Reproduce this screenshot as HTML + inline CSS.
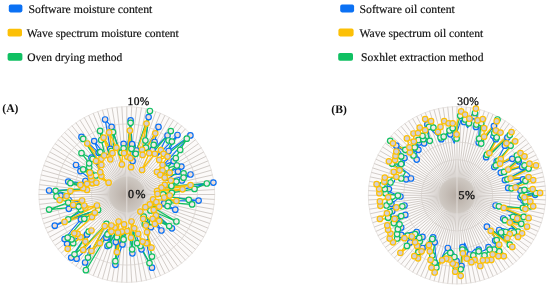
<!DOCTYPE html><html><head><meta charset="utf-8"><style>
html,body{margin:0;padding:0;background:#fff;}
body{width:550px;height:289px;overflow:hidden;position:relative;}
svg{position:absolute;left:0;top:0;}
text{font-family:"Liberation Serif","Times New Roman",serif;fill:#111;stroke:#111;stroke-width:0.18px;text-rendering:geometricPrecision;}
</style></head><body>
<svg width="550" height="289" viewBox="0 0 550 289">
<defs><radialGradient id="cg"><stop offset="0" stop-color="#b6aca4"/><stop offset="0.5" stop-color="#c3bbb4"/><stop offset="0.95" stop-color="#cec8c2"/><stop offset="1" stop-color="#d5d0cb"/></radialGradient></defs>

<rect x="8.8" y="4.6" width="13.6" height="7.8" rx="1.8" fill="#0b71f4"/>
<text x="28.4" y="12.6" font-size="11.75">Software moisture content</text>
<rect x="7.6" y="28.7" width="14.4" height="7.8" rx="1.8" fill="#fcc006"/>
<text x="26.8" y="36.9" font-size="11.6">Wave spectrum moisture content</text>
<rect x="7.6" y="53" width="14.8" height="7.8" rx="1.8" fill="#10c062"/>
<text x="27.2" y="61.0" font-size="11.5">Oven drying method</text>
<rect x="340.2" y="4.6" width="13.9" height="7.8" rx="1.8" fill="#0b71f4"/>
<text x="359.5" y="12.6" font-size="11.75">Software oil content</text>
<rect x="338.4" y="28.6" width="15.2" height="7.8" rx="1.8" fill="#fcc006"/>
<text x="359.5" y="36.9" font-size="11.6">Wave spectrum oil content</text>
<rect x="338.2" y="53" width="14.8" height="7.8" rx="1.8" fill="#10c062"/>
<text x="361.1" y="61.0" font-size="11.6">Soxhlet extraction method</text>
<text x="2.3" y="112.0" font-size="11.6" font-weight="bold" style="stroke-width:0">(A)</text>
<text x="331.3" y="112.5" font-size="11.6" font-weight="bold" style="stroke-width:0">(B)</text>
<circle cx="126.8" cy="194.5" r="88.2" fill="#fcfaf9"/>
<path d="M126.8 194.5L126.80 106.30M126.8 194.5L131.75 106.44M126.8 194.5L136.68 106.85M126.8 194.5L141.57 107.55M126.8 194.5L146.43 108.51M126.8 194.5L151.22 109.75M126.8 194.5L155.93 111.25M126.8 194.5L160.55 113.01M126.8 194.5L165.07 115.03M126.8 194.5L169.46 117.31M126.8 194.5L173.73 119.82M126.8 194.5L177.84 122.57M126.8 194.5L181.79 125.54M126.8 194.5L185.57 128.73M126.8 194.5L189.17 132.13M126.8 194.5L192.57 135.73M126.8 194.5L195.76 139.51M126.8 194.5L198.73 143.46M126.8 194.5L201.48 147.57M126.8 194.5L203.99 151.84M126.8 194.5L206.27 156.23M126.8 194.5L208.29 160.75M126.8 194.5L210.05 165.37M126.8 194.5L211.55 170.08M126.8 194.5L212.79 174.87M126.8 194.5L213.75 179.73M126.8 194.5L214.45 184.62M126.8 194.5L214.86 189.55M126.8 194.5L215.00 194.50M126.8 194.5L214.86 199.45M126.8 194.5L214.45 204.38M126.8 194.5L213.75 209.27M126.8 194.5L212.79 214.13M126.8 194.5L211.55 218.92M126.8 194.5L210.05 223.63M126.8 194.5L208.29 228.25M126.8 194.5L206.27 232.77M126.8 194.5L203.99 237.16M126.8 194.5L201.48 241.43M126.8 194.5L198.73 245.54M126.8 194.5L195.76 249.49M126.8 194.5L192.57 253.27M126.8 194.5L189.17 256.87M126.8 194.5L185.57 260.27M126.8 194.5L181.79 263.46M126.8 194.5L177.84 266.43M126.8 194.5L173.73 269.18M126.8 194.5L169.46 271.69M126.8 194.5L165.07 273.97M126.8 194.5L160.55 275.99M126.8 194.5L155.93 277.75M126.8 194.5L151.22 279.25M126.8 194.5L146.43 280.49M126.8 194.5L141.57 281.45M126.8 194.5L136.68 282.15M126.8 194.5L131.75 282.56M126.8 194.5L126.80 282.70M126.8 194.5L121.85 282.56M126.8 194.5L116.92 282.15M126.8 194.5L112.03 281.45M126.8 194.5L107.17 280.49M126.8 194.5L102.38 279.25M126.8 194.5L97.67 277.75M126.8 194.5L93.05 275.99M126.8 194.5L88.53 273.97M126.8 194.5L84.14 271.69M126.8 194.5L79.87 269.18M126.8 194.5L75.76 266.43M126.8 194.5L71.81 263.46M126.8 194.5L68.03 260.27M126.8 194.5L64.43 256.87M126.8 194.5L61.03 253.27M126.8 194.5L57.84 249.49M126.8 194.5L54.87 245.54M126.8 194.5L52.12 241.43M126.8 194.5L49.61 237.16M126.8 194.5L47.33 232.77M126.8 194.5L45.31 228.25M126.8 194.5L43.55 223.63M126.8 194.5L42.05 218.92M126.8 194.5L40.81 214.13M126.8 194.5L39.85 209.27M126.8 194.5L39.15 204.38M126.8 194.5L38.74 199.45M126.8 194.5L38.60 194.50M126.8 194.5L38.74 189.55M126.8 194.5L39.15 184.62M126.8 194.5L39.85 179.73M126.8 194.5L40.81 174.87M126.8 194.5L42.05 170.08M126.8 194.5L43.55 165.37M126.8 194.5L45.31 160.75M126.8 194.5L47.33 156.23M126.8 194.5L49.61 151.84M126.8 194.5L52.12 147.57M126.8 194.5L54.87 143.46M126.8 194.5L57.84 139.51M126.8 194.5L61.03 135.73M126.8 194.5L64.43 132.13M126.8 194.5L68.03 128.73M126.8 194.5L71.81 125.54M126.8 194.5L75.76 122.57M126.8 194.5L79.87 119.82M126.8 194.5L84.14 117.31M126.8 194.5L88.53 115.03M126.8 194.5L93.05 113.01M126.8 194.5L97.67 111.25M126.8 194.5L102.38 109.75M126.8 194.5L107.17 108.51M126.8 194.5L112.03 107.55M126.8 194.5L116.92 106.85M126.8 194.5L121.85 106.44" stroke="#c7c0bb" stroke-width="0.8" fill="none"/>
<circle cx="126.8" cy="194.5" r="87.90" fill="none" stroke="#dcd7d3" stroke-width="0.6"/>
<circle cx="126.8" cy="194.5" r="17.64" fill="none" stroke="#d6d0cc" stroke-width="0.7"/>
<circle cx="126.8" cy="194.5" r="35.28" fill="none" stroke="#d6d0cc" stroke-width="0.7"/>
<circle cx="126.8" cy="194.5" r="52.92" fill="none" stroke="#d6d0cc" stroke-width="0.7"/>
<circle cx="126.8" cy="194.5" r="70.56" fill="none" stroke="#d6d0cc" stroke-width="0.7"/>
<circle cx="126.8" cy="194.5" r="18.14" fill="url(#cg)"/>
<line x1="126.8" y1="159.2" x2="126.8" y2="229.8" stroke="#e4e0dd" stroke-width="0.9"/>
<circle cx="457" cy="195.3" r="89" fill="#fcfaf9"/>
<path d="M457 195.3L457.00 106.30M457 195.3L461.66 106.42M457 195.3L466.30 106.79M457 195.3L470.92 107.40M457 195.3L475.50 108.24M457 195.3L480.03 109.33M457 195.3L484.50 110.66M457 195.3L488.89 112.21M457 195.3L493.20 113.99M457 195.3L497.41 116.00M457 195.3L501.50 118.22M457 195.3L505.47 120.66M457 195.3L509.31 123.30M457 195.3L513.01 126.13M457 195.3L516.55 129.16M457 195.3L519.93 132.37M457 195.3L523.14 135.75M457 195.3L526.17 139.29M457 195.3L529.00 142.99M457 195.3L531.64 146.83M457 195.3L534.08 150.80M457 195.3L536.30 154.89M457 195.3L538.31 159.10M457 195.3L540.09 163.41M457 195.3L541.64 167.80M457 195.3L542.97 172.27M457 195.3L544.06 176.80M457 195.3L544.90 181.38M457 195.3L545.51 186.00M457 195.3L545.88 190.64M457 195.3L546.00 195.30M457 195.3L545.88 199.96M457 195.3L545.51 204.60M457 195.3L544.90 209.22M457 195.3L544.06 213.80M457 195.3L542.97 218.33M457 195.3L541.64 222.80M457 195.3L540.09 227.19M457 195.3L538.31 231.50M457 195.3L536.30 235.71M457 195.3L534.08 239.80M457 195.3L531.64 243.77M457 195.3L529.00 247.61M457 195.3L526.17 251.31M457 195.3L523.14 254.85M457 195.3L519.93 258.23M457 195.3L516.55 261.44M457 195.3L513.01 264.47M457 195.3L509.31 267.30M457 195.3L505.47 269.94M457 195.3L501.50 272.38M457 195.3L497.41 274.60M457 195.3L493.20 276.61M457 195.3L488.89 278.39M457 195.3L484.50 279.94M457 195.3L480.03 281.27M457 195.3L475.50 282.36M457 195.3L470.92 283.20M457 195.3L466.30 283.81M457 195.3L461.66 284.18M457 195.3L457.00 284.30M457 195.3L452.34 284.18M457 195.3L447.70 283.81M457 195.3L443.08 283.20M457 195.3L438.50 282.36M457 195.3L433.97 281.27M457 195.3L429.50 279.94M457 195.3L425.11 278.39M457 195.3L420.80 276.61M457 195.3L416.59 274.60M457 195.3L412.50 272.38M457 195.3L408.53 269.94M457 195.3L404.69 267.30M457 195.3L400.99 264.47M457 195.3L397.45 261.44M457 195.3L394.07 258.23M457 195.3L390.86 254.85M457 195.3L387.83 251.31M457 195.3L385.00 247.61M457 195.3L382.36 243.77M457 195.3L379.92 239.80M457 195.3L377.70 235.71M457 195.3L375.69 231.50M457 195.3L373.91 227.19M457 195.3L372.36 222.80M457 195.3L371.03 218.33M457 195.3L369.94 213.80M457 195.3L369.10 209.22M457 195.3L368.49 204.60M457 195.3L368.12 199.96M457 195.3L368.00 195.30M457 195.3L368.12 190.64M457 195.3L368.49 186.00M457 195.3L369.10 181.38M457 195.3L369.94 176.80M457 195.3L371.03 172.27M457 195.3L372.36 167.80M457 195.3L373.91 163.41M457 195.3L375.69 159.10M457 195.3L377.70 154.89M457 195.3L379.92 150.80M457 195.3L382.36 146.83M457 195.3L385.00 142.99M457 195.3L387.83 139.29M457 195.3L390.86 135.75M457 195.3L394.07 132.37M457 195.3L397.45 129.16M457 195.3L400.99 126.13M457 195.3L404.69 123.30M457 195.3L408.53 120.66M457 195.3L412.50 118.22M457 195.3L416.59 116.00M457 195.3L420.80 113.99M457 195.3L425.11 112.21M457 195.3L429.50 110.66M457 195.3L433.97 109.33M457 195.3L438.50 108.24M457 195.3L443.08 107.40M457 195.3L447.70 106.79M457 195.3L452.34 106.42" stroke="#c7c0bb" stroke-width="0.8" fill="none"/>
<circle cx="457" cy="195.3" r="88.70" fill="none" stroke="#dcd7d3" stroke-width="0.6"/>
<circle cx="457" cy="195.3" r="17.80" fill="none" stroke="#d6d0cc" stroke-width="0.7"/>
<circle cx="457" cy="195.3" r="35.60" fill="none" stroke="#d6d0cc" stroke-width="0.7"/>
<circle cx="457" cy="195.3" r="53.40" fill="none" stroke="#d6d0cc" stroke-width="0.7"/>
<circle cx="457" cy="195.3" r="71.20" fill="none" stroke="#d6d0cc" stroke-width="0.7"/>
<circle cx="457" cy="195.3" r="18.30" fill="url(#cg)"/>
<line x1="457" y1="159.7" x2="457" y2="230.9" stroke="#e4e0dd" stroke-width="0.9"/>
<path d="M126.8 154.9L130.6 120.4L132.1 144.2L132.6 161.1L136.5 150.5L148.6 117.1L145.8 140.3L144.9 150.8L158.5 126.9L154.6 142.0L152.6 149.9L167.5 135.5L157.6 155.9L177.5 135.0L168.6 151.0L190.4 135.4L163.0 165.6L173.6 161.1L163.2 171.6L163.1 174.4L181.4 166.6L178.0 171.6L165.9 180.8L190.5 174.5L181.9 180.5L165.3 188.0L213.4 182.6L169.6 192.1L164.3 194.5L169.6 196.9L198.6 200.6L163.8 200.8L164.2 203.3L175.3 209.7L153.9 204.0L155.2 206.3L152.0 206.7L151.3 208.1L155.1 212.3L171.9 228.3L154.9 216.9L155.3 220.0L161.4 230.5L148.4 218.6L147.3 220.2L150.9 227.2L146.2 225.3L147.5 231.9L148.4 239.3L145.8 240.4L152.0 267.7L141.5 249.3L135.9 234.4L133.1 231.7L132.4 253.3L128.7 227.8L126.8 231.5L124.7 231.5L122.5 244.4L115.4 264.8L115.8 242.1L115.9 232.2L107.5 246.0L113.3 227.1L106.4 237.7L107.4 229.7L85.1 262.5L90.5 245.6L76.6 258.7L71.2 257.6L87.0 234.4L79.8 236.5L67.1 243.8L64.6 239.1L73.5 228.0L80.9 219.3L89.4 212.5L54.8 225.7L85.8 208.9L84.6 206.7L68.8 208.8L82.3 202.1L72.5 200.6L70.4 197.7L60.5 195.7L49.1 190.5L79.7 189.2L83.4 187.1L68.2 181.6L87.2 183.1L85.4 181.0L91.3 179.8L80.4 171.1L76.0 165.0L94.3 174.1L98.6 174.5L99.7 172.9L101.0 171.4L91.5 157.7L99.2 161.7L81.5 136.9L98.7 152.7L94.2 141.1L105.3 155.6L107.5 154.5L109.6 152.9L110.3 148.8L105.1 119.5L111.6 126.9L119.3 150.5L122.4 155.1L123.6 143.8Z" stroke="#0b71f4" stroke-width="1.15" fill="none" stroke-linejoin="round"/>
<path d="M126.8 154.9L130.6 122.8L131.5 148.8L135.2 145.0L135.7 153.8L149.9 111.0L145.4 140.5L145.9 147.7L147.2 152.2L153.7 144.9L153.1 152.7L170.8 131.1L168.6 140.5L171.9 141.6L165.6 155.7L186.8 138.7L180.2 149.9L175.8 158.2L166.4 168.3L176.9 165.5L165.6 175.8L183.6 173.3L183.6 177.7L176.4 181.6L171.4 186.0L206.8 183.5L194.5 188.9L171.9 192.8L163.1 194.4L169.6 196.9L188.8 199.8L192.1 204.4L168.6 202.7L167.5 206.1L153.9 204.0L155.2 206.3L152.0 206.7L176.4 221.5L155.1 212.3L150.4 210.5L169.2 226.1L155.3 220.0L153.7 221.4L152.0 222.2L143.7 216.6L145.8 221.3L144.8 223.9L147.5 231.9L148.4 239.3L152.0 256.6L149.5 263.1L140.4 246.0L137.1 243.2L133.1 231.7L132.1 249.3L128.7 227.8L126.8 231.5L123.6 239.4L122.6 231.7L115.4 261.2L116.9 237.2L115.9 232.2L109.2 244.9L113.3 227.1L107.5 234.4L85.9 270.2L88.0 257.6L106.4 223.9L87.7 243.5L74.5 254.3L88.7 231.6L73.2 243.2L71.5 239.4L67.7 237.7L84.3 218.8L98.1 209.9L89.4 212.5L68.2 219.3L80.9 209.4L84.6 206.7L78.7 206.6L49.1 209.6L68.2 202.7L56.5 196.5L70.3 194.5L55.6 190.8L79.7 189.2L83.4 187.1L70.4 183.2L87.2 183.1L90.6 181.8L91.3 179.8L92.2 177.8L83.2 169.4L95.9 175.5L89.2 167.2L89.2 163.3L81.5 153.2L92.6 159.0L97.6 161.8L83.2 138.9L101.1 158.3L100.3 152.1L105.3 155.6L101.2 140.0L100.1 130.9L111.4 151.0L113.5 148.4L113.0 132.2L119.3 150.5L121.4 152.7L123.6 148.3Z" stroke="#10c062" stroke-width="1.25" fill="none" stroke-linejoin="round"/>
<path d="M127.1 156.6L129.9 130.6L130.4 158.2L131.0 167.2L136.1 153.6L146.5 123.6L142.1 149.7L142.6 154.9L155.3 133.3L149.2 153.2L142.1 170.0L154.8 153.8L160.9 150.1L163.6 153.8L159.2 159.9L167.5 156.6L162.5 165.0L157.0 172.0L162.5 170.5L160.3 174.9L169.7 172.7L164.7 177.7L170.8 180.5L164.7 184.9L161.4 187.7L190.5 185.1L157.0 191.0L182.5 189.3L157.5 193.9L169.7 195.5L164.2 197.5L176.4 201.1L153.1 199.4L156.4 202.2L159.2 206.6L149.8 204.4L152.0 206.7L153.7 209.9L145.4 207.2L155.9 215.5L159.2 221.0L152.6 218.8L154.8 223.9L148.4 218.6L140.4 211.6L143.2 218.8L145.9 225.5L147.0 232.2L151.5 247.7L146.5 243.2L142.6 241.6L138.2 233.8L134.3 228.3L131.5 221.5L131.0 237.7L128.7 227.8L127.1 231.1L124.1 224.4L121.9 231.6L117.0 252.2L118.0 232.7L118.6 221.5L114.7 227.7L111.4 231.6L111.4 225.5L99.8 243.2L91.5 251.0L104.7 226.1L83.2 249.9L85.4 241.6L91.5 230.5L80.4 237.2L67.7 248.8L77.6 233.8L74.3 233.3L92.0 217.1L94.8 212.7L64.6 221.9L97.0 205.5L85.4 207.7L84.3 205.5L73.2 204.9L82.1 200.5L59.7 200.1L66.6 196.1L70.4 191.0L87.0 189.9L83.2 188.2L80.4 184.9L87.0 183.8L92.6 183.2L96.4 182.7L91.5 179.4L90.9 176.1L89.8 172.7L108.6 182.7L101.4 176.1L100.3 172.2L95.9 161.0L101.4 165.0L87.3 143.5L101.4 158.8L103.2 156.9L104.2 155.5L110.3 159.3L103.6 137.7L112.5 153.2L109.2 132.4L116.4 147.7L121.9 164.4L122.4 155.1L124.1 153.2Z" stroke="#fcc006" stroke-width="1.35" fill="none" stroke-linejoin="round"/>
<g fill="#f1ddd3" stroke="#0b71f4" stroke-width="1.2"><circle cx="130.6" cy="120.4" r="2.75"/><circle cx="132.1" cy="144.2" r="2.75"/><circle cx="132.6" cy="161.1" r="2.75"/><circle cx="136.5" cy="150.5" r="2.75"/><circle cx="148.6" cy="117.1" r="2.75"/><circle cx="158.5" cy="126.9" r="2.75"/><circle cx="154.6" cy="142.0" r="2.75"/><circle cx="152.6" cy="149.9" r="2.75"/><circle cx="167.5" cy="135.5" r="2.75"/><circle cx="177.5" cy="135.0" r="2.75"/><circle cx="168.6" cy="151.0" r="2.75"/><circle cx="190.4" cy="135.4" r="2.75"/><circle cx="173.6" cy="161.1" r="2.75"/><circle cx="181.4" cy="166.6" r="2.75"/><circle cx="178.0" cy="171.6" r="2.75"/><circle cx="190.5" cy="174.5" r="2.75"/><circle cx="181.9" cy="180.5" r="2.75"/><circle cx="213.4" cy="182.6" r="2.75"/><circle cx="198.6" cy="200.6" r="2.75"/><circle cx="164.2" cy="203.3" r="2.75"/><circle cx="175.3" cy="209.7" r="2.75"/><circle cx="171.9" cy="228.3" r="2.75"/><circle cx="161.4" cy="230.5" r="2.75"/><circle cx="150.9" cy="227.2" r="2.75"/><circle cx="152.0" cy="267.7" r="2.75"/><circle cx="141.5" cy="249.3" r="2.75"/><circle cx="132.4" cy="253.3" r="2.75"/><circle cx="122.5" cy="244.4" r="2.75"/><circle cx="115.4" cy="264.8" r="2.75"/><circle cx="115.8" cy="242.1" r="2.75"/><circle cx="107.5" cy="246.0" r="2.75"/><circle cx="106.4" cy="237.7" r="2.75"/><circle cx="85.1" cy="262.5" r="2.75"/><circle cx="76.6" cy="258.7" r="2.75"/><circle cx="71.2" cy="257.6" r="2.75"/><circle cx="87.0" cy="234.4" r="2.75"/><circle cx="67.1" cy="243.8" r="2.75"/><circle cx="64.6" cy="239.1" r="2.75"/><circle cx="80.9" cy="219.3" r="2.75"/><circle cx="54.8" cy="225.7" r="2.75"/><circle cx="68.8" cy="208.8" r="2.75"/><circle cx="60.5" cy="195.7" r="2.75"/><circle cx="49.1" cy="190.5" r="2.75"/><circle cx="68.2" cy="181.6" r="2.75"/><circle cx="85.4" cy="181.0" r="2.75"/><circle cx="80.4" cy="171.1" r="2.75"/><circle cx="76.0" cy="165.0" r="2.75"/><circle cx="91.5" cy="157.7" r="2.75"/><circle cx="99.2" cy="161.7" r="2.75"/><circle cx="81.5" cy="136.9" r="2.75"/><circle cx="98.7" cy="152.7" r="2.75"/><circle cx="94.2" cy="141.1" r="2.75"/><circle cx="110.3" cy="148.8" r="2.75"/><circle cx="105.1" cy="119.5" r="2.75"/><circle cx="111.6" cy="126.9" r="2.75"/><circle cx="123.6" cy="143.8" r="2.75"/></g>
<g fill="#f3ebea" stroke="#10c062" stroke-width="1.2"><circle cx="130.6" cy="122.8" r="2.75"/><circle cx="131.5" cy="148.8" r="2.75"/><circle cx="135.7" cy="153.8" r="2.75"/><circle cx="149.9" cy="111.0" r="2.75"/><circle cx="145.4" cy="140.5" r="2.75"/><circle cx="145.9" cy="147.7" r="2.75"/><circle cx="153.7" cy="144.9" r="2.75"/><circle cx="170.8" cy="131.1" r="2.75"/><circle cx="168.6" cy="140.5" r="2.75"/><circle cx="171.9" cy="141.6" r="2.75"/><circle cx="186.8" cy="138.7" r="2.75"/><circle cx="180.2" cy="149.9" r="2.75"/><circle cx="175.8" cy="158.2" r="2.75"/><circle cx="166.4" cy="168.3" r="2.75"/><circle cx="176.9" cy="165.5" r="2.75"/><circle cx="183.6" cy="173.3" r="2.75"/><circle cx="183.6" cy="177.7" r="2.75"/><circle cx="176.4" cy="181.6" r="2.75"/><circle cx="171.4" cy="186.0" r="2.75"/><circle cx="206.8" cy="183.5" r="2.75"/><circle cx="194.5" cy="188.9" r="2.75"/><circle cx="171.9" cy="192.8" r="2.75"/><circle cx="163.1" cy="194.4" r="2.75"/><circle cx="188.8" cy="199.8" r="2.75"/><circle cx="192.1" cy="204.4" r="2.75"/><circle cx="168.6" cy="202.7" r="2.75"/><circle cx="167.5" cy="206.1" r="2.75"/><circle cx="176.4" cy="221.5" r="2.75"/><circle cx="150.4" cy="210.5" r="2.75"/><circle cx="169.2" cy="226.1" r="2.75"/><circle cx="152.0" cy="222.2" r="2.75"/><circle cx="143.7" cy="216.6" r="2.75"/><circle cx="144.8" cy="223.9" r="2.75"/><circle cx="152.0" cy="256.6" r="2.75"/><circle cx="149.5" cy="263.1" r="2.75"/><circle cx="140.4" cy="246.0" r="2.75"/><circle cx="137.1" cy="243.2" r="2.75"/><circle cx="132.1" cy="249.3" r="2.75"/><circle cx="123.6" cy="239.4" r="2.75"/><circle cx="115.4" cy="261.2" r="2.75"/><circle cx="116.9" cy="237.2" r="2.75"/><circle cx="109.2" cy="244.9" r="2.75"/><circle cx="107.5" cy="234.4" r="2.75"/><circle cx="85.9" cy="270.2" r="2.75"/><circle cx="88.0" cy="257.6" r="2.75"/><circle cx="106.4" cy="223.9" r="2.75"/><circle cx="74.5" cy="254.3" r="2.75"/><circle cx="88.7" cy="231.6" r="2.75"/><circle cx="73.2" cy="243.2" r="2.75"/><circle cx="71.5" cy="239.4" r="2.75"/><circle cx="67.7" cy="237.7" r="2.75"/><circle cx="84.3" cy="218.8" r="2.75"/><circle cx="98.1" cy="209.9" r="2.75"/><circle cx="68.2" cy="219.3" r="2.75"/><circle cx="80.9" cy="209.4" r="2.75"/><circle cx="78.7" cy="206.6" r="2.75"/><circle cx="49.1" cy="209.6" r="2.75"/><circle cx="68.2" cy="202.7" r="2.75"/><circle cx="56.5" cy="196.5" r="2.75"/><circle cx="55.6" cy="190.8" r="2.75"/><circle cx="70.4" cy="183.2" r="2.75"/><circle cx="83.2" cy="169.4" r="2.75"/><circle cx="95.9" cy="175.5" r="2.75"/><circle cx="89.2" cy="167.2" r="2.75"/><circle cx="89.2" cy="163.3" r="2.75"/><circle cx="81.5" cy="153.2" r="2.75"/><circle cx="92.6" cy="159.0" r="2.75"/><circle cx="83.2" cy="138.9" r="2.75"/><circle cx="100.3" cy="152.1" r="2.75"/><circle cx="101.2" cy="140.0" r="2.75"/><circle cx="100.1" cy="130.9" r="2.75"/><circle cx="111.4" cy="151.0" r="2.75"/><circle cx="113.0" cy="132.2" r="2.75"/><circle cx="121.4" cy="152.7" r="2.75"/><circle cx="123.6" cy="148.3" r="2.75"/></g>
<g fill="#d3cfd6" stroke="#fcc006" stroke-width="1.2"><circle cx="127.1" cy="156.6" r="2.75"/><circle cx="129.9" cy="130.6" r="2.75"/><circle cx="130.4" cy="158.2" r="2.75"/><circle cx="131.0" cy="167.2" r="2.75"/><circle cx="146.5" cy="123.6" r="2.75"/><circle cx="142.1" cy="149.7" r="2.75"/><circle cx="142.6" cy="154.9" r="2.75"/><circle cx="155.3" cy="133.3" r="2.75"/><circle cx="149.2" cy="153.2" r="2.75"/><circle cx="142.1" cy="170.0" r="2.75"/><circle cx="154.8" cy="153.8" r="2.75"/><circle cx="160.9" cy="150.1" r="2.75"/><circle cx="163.6" cy="153.8" r="2.75"/><circle cx="159.2" cy="159.9" r="2.75"/><circle cx="167.5" cy="156.6" r="2.75"/><circle cx="162.5" cy="165.0" r="2.75"/><circle cx="157.0" cy="172.0" r="2.75"/><circle cx="162.5" cy="170.5" r="2.75"/><circle cx="160.3" cy="174.9" r="2.75"/><circle cx="169.7" cy="172.7" r="2.75"/><circle cx="164.7" cy="177.7" r="2.75"/><circle cx="170.8" cy="180.5" r="2.75"/><circle cx="164.7" cy="184.9" r="2.75"/><circle cx="161.4" cy="187.7" r="2.75"/><circle cx="190.5" cy="185.1" r="2.75"/><circle cx="157.0" cy="191.0" r="2.75"/><circle cx="182.5" cy="189.3" r="2.75"/><circle cx="157.5" cy="193.9" r="2.75"/><circle cx="169.7" cy="195.5" r="2.75"/><circle cx="164.2" cy="197.5" r="2.75"/><circle cx="176.4" cy="201.1" r="2.75"/><circle cx="153.1" cy="199.4" r="2.75"/><circle cx="156.4" cy="202.2" r="2.75"/><circle cx="159.2" cy="206.6" r="2.75"/><circle cx="149.8" cy="204.4" r="2.75"/><circle cx="153.7" cy="209.9" r="2.75"/><circle cx="145.4" cy="207.2" r="2.75"/><circle cx="155.9" cy="215.5" r="2.75"/><circle cx="159.2" cy="221.0" r="2.75"/><circle cx="152.6" cy="218.8" r="2.75"/><circle cx="154.8" cy="223.9" r="2.75"/><circle cx="140.4" cy="211.6" r="2.75"/><circle cx="143.2" cy="218.8" r="2.75"/><circle cx="145.9" cy="225.5" r="2.75"/><circle cx="147.0" cy="232.2" r="2.75"/><circle cx="151.5" cy="247.7" r="2.75"/><circle cx="146.5" cy="243.2" r="2.75"/><circle cx="142.6" cy="241.6" r="2.75"/><circle cx="138.2" cy="233.8" r="2.75"/><circle cx="134.3" cy="228.3" r="2.75"/><circle cx="131.5" cy="221.5" r="2.75"/><circle cx="131.0" cy="237.7" r="2.75"/><circle cx="127.1" cy="231.1" r="2.75"/><circle cx="124.1" cy="224.4" r="2.75"/><circle cx="121.9" cy="231.6" r="2.75"/><circle cx="117.0" cy="252.2" r="2.75"/><circle cx="118.0" cy="232.7" r="2.75"/><circle cx="118.6" cy="221.5" r="2.75"/><circle cx="114.7" cy="227.7" r="2.75"/><circle cx="111.4" cy="231.6" r="2.75"/><circle cx="111.4" cy="225.5" r="2.75"/><circle cx="99.8" cy="243.2" r="2.75"/><circle cx="91.5" cy="251.0" r="2.75"/><circle cx="104.7" cy="226.1" r="2.75"/><circle cx="83.2" cy="249.9" r="2.75"/><circle cx="85.4" cy="241.6" r="2.75"/><circle cx="91.5" cy="230.5" r="2.75"/><circle cx="80.4" cy="237.2" r="2.75"/><circle cx="67.7" cy="248.8" r="2.75"/><circle cx="77.6" cy="233.8" r="2.75"/><circle cx="74.3" cy="233.3" r="2.75"/><circle cx="92.0" cy="217.1" r="2.75"/><circle cx="94.8" cy="212.7" r="2.75"/><circle cx="64.6" cy="221.9" r="2.75"/><circle cx="97.0" cy="205.5" r="2.75"/><circle cx="85.4" cy="207.7" r="2.75"/><circle cx="84.3" cy="205.5" r="2.75"/><circle cx="73.2" cy="204.9" r="2.75"/><circle cx="82.1" cy="200.5" r="2.75"/><circle cx="59.7" cy="200.1" r="2.75"/><circle cx="66.6" cy="196.1" r="2.75"/><circle cx="70.4" cy="191.0" r="2.75"/><circle cx="87.0" cy="189.9" r="2.75"/><circle cx="83.2" cy="188.2" r="2.75"/><circle cx="80.4" cy="184.9" r="2.75"/><circle cx="87.0" cy="183.8" r="2.75"/><circle cx="92.6" cy="183.2" r="2.75"/><circle cx="96.4" cy="182.7" r="2.75"/><circle cx="91.5" cy="179.4" r="2.75"/><circle cx="90.9" cy="176.1" r="2.75"/><circle cx="89.8" cy="172.7" r="2.75"/><circle cx="108.6" cy="182.7" r="2.75"/><circle cx="101.4" cy="176.1" r="2.75"/><circle cx="100.3" cy="172.2" r="2.75"/><circle cx="95.9" cy="161.0" r="2.75"/><circle cx="101.4" cy="165.0" r="2.75"/><circle cx="87.3" cy="143.5" r="2.75"/><circle cx="101.4" cy="158.8" r="2.75"/><circle cx="104.2" cy="155.5" r="2.75"/><circle cx="110.3" cy="159.3" r="2.75"/><circle cx="103.6" cy="137.7" r="2.75"/><circle cx="112.5" cy="153.2" r="2.75"/><circle cx="109.2" cy="132.4" r="2.75"/><circle cx="116.4" cy="147.7" r="2.75"/><circle cx="121.9" cy="164.4" r="2.75"/><circle cx="124.1" cy="153.2" r="2.75"/></g>
<path d="M457.0 131.7L460.9 120.4L464.0 122.0L467.7 127.6L474.3 116.3L475.9 126.9L479.1 127.4L478.7 142.5L479.0 145.9L493.9 126.1L490.6 137.0L493.3 139.5L495.9 139.2L486.1 157.2L507.4 137.5L504.9 145.7L496.7 161.3L494.8 164.7L494.3 167.0L512.3 158.8L518.8 161.3L500.8 172.7L522.1 167.0L525.8 168.9L504.9 180.1L522.9 179.3L522.5 181.4L508.2 187.9L521.7 188.5L520.5 190.7L535.2 194.8L520.5 197.3L521.0 202.0L524.9 206.1L517.3 208.1L495.6 205.5L519.6 215.6L508.8 215.2L518.0 222.4L503.3 218.5L514.5 228.5L511.5 230.8L502.7 228.5L499.2 230.0L506.9 240.3L486.9 226.7L494.2 236.6L495.1 240.6L495.3 248.0L490.1 246.2L488.5 247.2L484.9 250.1L481.9 251.2L478.7 249.6L474.6 249.4L472.2 251.9L469.7 254.5L464.6 243.0L462.4 247.2L461.5 266.0L456.6 261.1L454.0 253.5L451.3 249.5L447.8 248.0L445.2 250.7L438.6 263.9L436.3 259.1L435.3 251.9L434.7 242.3L435.6 237.3L433.1 237.4L422.5 248.0L419.2 247.3L422.5 236.9L421.4 234.8L410.2 242.3L416.7 232.0L411.2 232.4L401.2 234.9L399.2 232.8L401.2 227.5L400.1 224.3L397.0 222.0L405.3 214.9L390.7 216.9L392.2 211.2L404.5 205.5L390.3 205.9L391.4 203.8L398.2 198.4L400.4 196.5L389.4 191.8L388.9 189.1L386.4 184.1L394.3 182.0L394.9 178.7L406.1 179.3L411.0 178.5L408.9 173.9L397.0 164.7L404.4 164.9L404.2 161.0L404.5 158.0L396.3 145.7L416.7 159.6L417.1 155.4L415.1 148.5L418.4 149.8L419.2 142.5L424.1 143.3L423.9 138.0L429.8 141.9L427.4 124.5L432.1 130.5L437.8 136.2L441.3 139.2L444.3 135.8L447.3 134.0L450.3 134.3L454.3 143.2Z" stroke="#0b71f4" stroke-width="1.15" fill="none" stroke-linejoin="round"/>
<path d="M457.0 127.1L460.2 115.8L465.1 119.5L468.9 123.3L475.0 113.0L476.3 124.5L481.2 123.3L479.2 138.7L481.2 143.6L497.5 119.5L494.3 133.1L496.7 137.5L486.9 154.7L488.0 157.0L509.8 135.1L505.8 146.5L510.6 145.7L498.4 160.5L495.9 165.4L516.9 155.5L518.0 159.6L504.1 171.9L524.5 165.4L528.6 168.6L507.4 179.3L524.2 177.3L525.4 180.9L511.5 188.3L524.5 189.9L536.0 193.2L522.1 195.6L521.1 198.7L525.4 201.4L530.3 206.3L522.9 207.9L498.9 206.3L523.7 216.9L513.1 216.9L521.3 223.8L504.9 220.2L518.0 231.6L513.9 232.5L505.7 232.0L501.1 232.5L509.8 244.7L488.7 227.0L496.7 240.1L499.0 247.1L499.2 251.3L494.3 249.6L489.7 249.6L486.7 253.5L484.5 255.4L478.7 251.3L475.8 253.1L473.3 255.4L469.7 254.9L465.2 246.9L462.4 249.6L460.7 269.3L455.8 267.6L454.4 257.0L450.3 252.9L448.0 252.1L444.4 254.5L436.4 267.6L434.7 262.7L432.3 255.4L434.3 246.3L433.8 240.8L432.3 239.0L418.4 252.1L416.9 250.5L419.7 241.5L419.2 237.9L406.9 245.9L415.1 234.1L407.7 235.7L397.1 238.5L397.1 234.1L397.9 229.2L399.5 224.3L393.8 223.1L401.2 216.1L388.1 217.7L389.7 212.0L402.3 206.3L386.5 205.5L389.7 201.4L394.3 198.6L397.9 195.6L385.6 193.2L384.8 189.1L382.4 185.0L390.5 182.5L391.2 177.7L401.2 178.5L403.9 174.9L405.4 172.3L392.2 163.7L401.2 164.1L400.9 158.9L401.2 156.4L390.2 140.8L405.3 149.8L413.5 155.5L414.8 147.4L417.4 146.4L418.4 140.0L423.3 139.2L422.5 135.9L429.8 140.8L425.1 123.7L429.0 126.9L433.4 127.7L440.5 137.5L443.7 136.7L449.5 130.5L452.7 128.2L456.6 138.4Z" stroke="#10c062" stroke-width="1.25" fill="none" stroke-linejoin="round"/>
<path d="M457.0 122.8L461.2 111.4L465.1 114.6L469.4 118.7L475.9 108.6L477.6 120.4L482.8 119.1L484.1 128.2L484.1 136.7L496.7 121.2L495.9 130.5L498.6 131.3L500.5 132.6L489.4 153.1L511.5 132.1L506.5 143.3L515.2 141.3L500.8 159.1L500.0 163.7L520.5 153.1L524.5 156.4L508.2 169.5L529.5 163.7L536.0 165.4L510.6 178.5L528.6 177.1L533.2 180.1L515.5 187.5L532.7 189.1L540.1 192.9L536.8 195.3L524.5 197.3L530.3 201.4L533.2 206.3L525.4 209.1L503.8 207.9L528.6 218.2L517.2 218.5L527.0 226.7L509.8 222.6L522.1 233.3L518.0 236.9L509.8 234.1L507.4 238.2L512.3 246.9L490.7 230.8L499.2 244.7L503.8 256.2L498.4 256.2L492.6 254.5L491.3 259.9L486.9 260.3L482.8 260.3L480.4 266.0L474.6 259.9L471.4 262.2L466.8 258.6L462.9 253.4L460.7 275.8L455.8 265.2L455.2 271.7L452.7 263.5L449.5 259.5L446.2 258.6L442.1 260.3L434.7 272.5L431.5 267.6L430.6 259.9L429.8 251.3L429.0 245.2L418.0 258.3L421.6 251.3L414.3 256.2L417.1 245.9L415.1 242.3L400.4 252.9L411.8 236.5L404.5 238.2L393.0 242.3L389.7 238.5L390.5 233.6L388.1 229.7L387.3 225.4L394.6 218.9L379.9 218.9L386.9 213.3L396.3 207.4L380.4 205.8L379.9 201.4L388.1 197.3L391.0 195.3L379.4 193.2L379.1 189.1L376.6 184.2L384.3 181.7L384.8 177.6L396.3 176.8L393.8 171.9L399.5 170.3L388.9 161.3L395.1 160.1L395.5 155.9L396.3 151.5L393.0 143.3L409.9 152.3L409.4 147.4L406.9 138.4L413.8 141.6L413.5 133.5L418.0 133.1L419.7 127.7L425.2 130.2L425.2 119.1L431.1 121.2L438.0 131.8L440.5 126.9L444.2 121.2L448.6 123.3L452.7 123.3L456.6 134.3Z" stroke="#fcc006" stroke-width="1.35" fill="none" stroke-linejoin="round"/>
<g fill="#f1ddd3" stroke="#0b71f4" stroke-width="1.2"><circle cx="464.0" cy="122.0" r="2.75"/><circle cx="474.3" cy="116.3" r="2.75"/><circle cx="475.9" cy="126.9" r="2.75"/><circle cx="478.7" cy="142.5" r="2.75"/><circle cx="493.9" cy="126.1" r="2.75"/><circle cx="495.9" cy="139.2" r="2.75"/><circle cx="486.1" cy="157.2" r="2.75"/><circle cx="507.4" cy="137.5" r="2.75"/><circle cx="504.9" cy="145.7" r="2.75"/><circle cx="496.7" cy="161.3" r="2.75"/><circle cx="494.3" cy="167.0" r="2.75"/><circle cx="512.3" cy="158.8" r="2.75"/><circle cx="518.8" cy="161.3" r="2.75"/><circle cx="500.8" cy="172.7" r="2.75"/><circle cx="522.1" cy="167.0" r="2.75"/><circle cx="504.9" cy="180.1" r="2.75"/><circle cx="522.9" cy="179.3" r="2.75"/><circle cx="508.2" cy="187.9" r="2.75"/><circle cx="520.5" cy="190.7" r="2.75"/><circle cx="535.2" cy="194.8" r="2.75"/><circle cx="520.5" cy="197.3" r="2.75"/><circle cx="495.6" cy="205.5" r="2.75"/><circle cx="503.3" cy="218.5" r="2.75"/><circle cx="511.5" cy="230.8" r="2.75"/><circle cx="499.2" cy="230.0" r="2.75"/><circle cx="486.9" cy="226.7" r="2.75"/><circle cx="495.1" cy="240.6" r="2.75"/><circle cx="488.5" cy="247.2" r="2.75"/><circle cx="478.7" cy="249.6" r="2.75"/><circle cx="469.7" cy="254.5" r="2.75"/><circle cx="462.4" cy="247.2" r="2.75"/><circle cx="461.5" cy="266.0" r="2.75"/><circle cx="456.6" cy="261.1" r="2.75"/><circle cx="447.8" cy="248.0" r="2.75"/><circle cx="434.7" cy="242.3" r="2.75"/><circle cx="433.1" cy="237.4" r="2.75"/><circle cx="422.5" cy="248.0" r="2.75"/><circle cx="422.5" cy="236.9" r="2.75"/><circle cx="410.2" cy="242.3" r="2.75"/><circle cx="416.7" cy="232.0" r="2.75"/><circle cx="401.2" cy="234.9" r="2.75"/><circle cx="401.2" cy="227.5" r="2.75"/><circle cx="405.3" cy="214.9" r="2.75"/><circle cx="392.2" cy="211.2" r="2.75"/><circle cx="404.5" cy="205.5" r="2.75"/><circle cx="391.4" cy="203.8" r="2.75"/><circle cx="400.4" cy="196.5" r="2.75"/><circle cx="388.9" cy="189.1" r="2.75"/><circle cx="406.1" cy="179.3" r="2.75"/><circle cx="411.0" cy="178.5" r="2.75"/><circle cx="404.5" cy="158.0" r="2.75"/><circle cx="396.3" cy="145.7" r="2.75"/><circle cx="416.7" cy="159.6" r="2.75"/><circle cx="415.1" cy="148.5" r="2.75"/><circle cx="418.4" cy="149.8" r="2.75"/><circle cx="419.2" cy="142.5" r="2.75"/><circle cx="424.1" cy="143.3" r="2.75"/><circle cx="427.4" cy="124.5" r="2.75"/><circle cx="441.3" cy="139.2" r="2.75"/><circle cx="450.3" cy="134.3" r="2.75"/></g>
<g fill="#f3ebea" stroke="#10c062" stroke-width="1.2"><circle cx="460.2" cy="115.8" r="2.75"/><circle cx="465.1" cy="119.5" r="2.75"/><circle cx="468.9" cy="123.3" r="2.75"/><circle cx="475.0" cy="113.0" r="2.75"/><circle cx="476.3" cy="124.5" r="2.75"/><circle cx="481.2" cy="123.3" r="2.75"/><circle cx="479.2" cy="138.7" r="2.75"/><circle cx="481.2" cy="143.6" r="2.75"/><circle cx="497.5" cy="119.5" r="2.75"/><circle cx="494.3" cy="133.1" r="2.75"/><circle cx="496.7" cy="137.5" r="2.75"/><circle cx="486.9" cy="154.7" r="2.75"/><circle cx="509.8" cy="135.1" r="2.75"/><circle cx="510.6" cy="145.7" r="2.75"/><circle cx="498.4" cy="160.5" r="2.75"/><circle cx="495.9" cy="165.4" r="2.75"/><circle cx="516.9" cy="155.5" r="2.75"/><circle cx="518.0" cy="159.6" r="2.75"/><circle cx="504.1" cy="171.9" r="2.75"/><circle cx="524.5" cy="165.4" r="2.75"/><circle cx="528.6" cy="168.6" r="2.75"/><circle cx="507.4" cy="179.3" r="2.75"/><circle cx="525.4" cy="180.9" r="2.75"/><circle cx="511.5" cy="188.3" r="2.75"/><circle cx="524.5" cy="189.9" r="2.75"/><circle cx="536.0" cy="193.2" r="2.75"/><circle cx="522.1" cy="195.6" r="2.75"/><circle cx="525.4" cy="201.4" r="2.75"/><circle cx="530.3" cy="206.3" r="2.75"/><circle cx="522.9" cy="207.9" r="2.75"/><circle cx="498.9" cy="206.3" r="2.75"/><circle cx="523.7" cy="216.9" r="2.75"/><circle cx="513.1" cy="216.9" r="2.75"/><circle cx="521.3" cy="223.8" r="2.75"/><circle cx="504.9" cy="220.2" r="2.75"/><circle cx="518.0" cy="231.6" r="2.75"/><circle cx="513.9" cy="232.5" r="2.75"/><circle cx="505.7" cy="232.0" r="2.75"/><circle cx="501.1" cy="232.5" r="2.75"/><circle cx="509.8" cy="244.7" r="2.75"/><circle cx="496.7" cy="240.1" r="2.75"/><circle cx="499.2" cy="251.3" r="2.75"/><circle cx="494.3" cy="249.6" r="2.75"/><circle cx="489.7" cy="249.6" r="2.75"/><circle cx="484.5" cy="255.4" r="2.75"/><circle cx="478.7" cy="251.3" r="2.75"/><circle cx="473.3" cy="255.4" r="2.75"/><circle cx="462.4" cy="249.6" r="2.75"/><circle cx="460.7" cy="269.3" r="2.75"/><circle cx="455.8" cy="267.6" r="2.75"/><circle cx="454.4" cy="257.0" r="2.75"/><circle cx="450.3" cy="252.9" r="2.75"/><circle cx="436.4" cy="267.6" r="2.75"/><circle cx="434.7" cy="262.7" r="2.75"/><circle cx="432.3" cy="255.4" r="2.75"/><circle cx="432.3" cy="239.0" r="2.75"/><circle cx="418.4" cy="252.1" r="2.75"/><circle cx="419.7" cy="241.5" r="2.75"/><circle cx="419.2" cy="237.9" r="2.75"/><circle cx="406.9" cy="245.9" r="2.75"/><circle cx="415.1" cy="234.1" r="2.75"/><circle cx="407.7" cy="235.7" r="2.75"/><circle cx="397.1" cy="238.5" r="2.75"/><circle cx="397.1" cy="234.1" r="2.75"/><circle cx="397.9" cy="229.2" r="2.75"/><circle cx="399.5" cy="224.3" r="2.75"/><circle cx="393.8" cy="223.1" r="2.75"/><circle cx="401.2" cy="216.1" r="2.75"/><circle cx="388.1" cy="217.7" r="2.75"/><circle cx="389.7" cy="212.0" r="2.75"/><circle cx="402.3" cy="206.3" r="2.75"/><circle cx="386.5" cy="205.5" r="2.75"/><circle cx="389.7" cy="201.4" r="2.75"/><circle cx="397.9" cy="195.6" r="2.75"/><circle cx="385.6" cy="193.2" r="2.75"/><circle cx="384.8" cy="189.1" r="2.75"/><circle cx="382.4" cy="185.0" r="2.75"/><circle cx="390.5" cy="182.5" r="2.75"/><circle cx="401.2" cy="178.5" r="2.75"/><circle cx="392.2" cy="163.7" r="2.75"/><circle cx="401.2" cy="164.1" r="2.75"/><circle cx="401.2" cy="156.4" r="2.75"/><circle cx="390.2" cy="140.8" r="2.75"/><circle cx="405.3" cy="149.8" r="2.75"/><circle cx="413.5" cy="155.5" r="2.75"/><circle cx="414.8" cy="147.4" r="2.75"/><circle cx="418.4" cy="140.0" r="2.75"/><circle cx="423.3" cy="139.2" r="2.75"/><circle cx="422.5" cy="135.9" r="2.75"/><circle cx="429.8" cy="140.8" r="2.75"/><circle cx="429.0" cy="126.9" r="2.75"/><circle cx="433.4" cy="127.7" r="2.75"/><circle cx="440.5" cy="137.5" r="2.75"/><circle cx="443.7" cy="136.7" r="2.75"/><circle cx="449.5" cy="130.5" r="2.75"/><circle cx="452.7" cy="128.2" r="2.75"/><circle cx="456.6" cy="138.4" r="2.75"/></g>
<g fill="#d3cfd6" stroke="#fcc006" stroke-width="1.2"><circle cx="461.2" cy="111.4" r="2.75"/><circle cx="465.1" cy="114.6" r="2.75"/><circle cx="469.4" cy="118.7" r="2.75"/><circle cx="475.9" cy="108.6" r="2.75"/><circle cx="477.6" cy="120.4" r="2.75"/><circle cx="482.8" cy="119.1" r="2.75"/><circle cx="484.1" cy="128.2" r="2.75"/><circle cx="484.1" cy="136.7" r="2.75"/><circle cx="496.7" cy="121.2" r="2.75"/><circle cx="495.9" cy="130.5" r="2.75"/><circle cx="500.5" cy="132.6" r="2.75"/><circle cx="489.4" cy="153.1" r="2.75"/><circle cx="511.5" cy="132.1" r="2.75"/><circle cx="506.5" cy="143.3" r="2.75"/><circle cx="515.2" cy="141.3" r="2.75"/><circle cx="500.8" cy="159.1" r="2.75"/><circle cx="500.0" cy="163.7" r="2.75"/><circle cx="520.5" cy="153.1" r="2.75"/><circle cx="524.5" cy="156.4" r="2.75"/><circle cx="508.2" cy="169.5" r="2.75"/><circle cx="529.5" cy="163.7" r="2.75"/><circle cx="536.0" cy="165.4" r="2.75"/><circle cx="510.6" cy="178.5" r="2.75"/><circle cx="528.6" cy="177.1" r="2.75"/><circle cx="533.2" cy="180.1" r="2.75"/><circle cx="515.5" cy="187.5" r="2.75"/><circle cx="532.7" cy="189.1" r="2.75"/><circle cx="540.1" cy="192.9" r="2.75"/><circle cx="524.5" cy="197.3" r="2.75"/><circle cx="530.3" cy="201.4" r="2.75"/><circle cx="533.2" cy="206.3" r="2.75"/><circle cx="525.4" cy="209.1" r="2.75"/><circle cx="503.8" cy="207.9" r="2.75"/><circle cx="528.6" cy="218.2" r="2.75"/><circle cx="517.2" cy="218.5" r="2.75"/><circle cx="527.0" cy="226.7" r="2.75"/><circle cx="509.8" cy="222.6" r="2.75"/><circle cx="522.1" cy="233.3" r="2.75"/><circle cx="518.0" cy="236.9" r="2.75"/><circle cx="509.8" cy="234.1" r="2.75"/><circle cx="507.4" cy="238.2" r="2.75"/><circle cx="512.3" cy="246.9" r="2.75"/><circle cx="490.7" cy="230.8" r="2.75"/><circle cx="499.2" cy="244.7" r="2.75"/><circle cx="503.8" cy="256.2" r="2.75"/><circle cx="498.4" cy="256.2" r="2.75"/><circle cx="492.6" cy="254.5" r="2.75"/><circle cx="491.3" cy="259.9" r="2.75"/><circle cx="486.9" cy="260.3" r="2.75"/><circle cx="482.8" cy="260.3" r="2.75"/><circle cx="480.4" cy="266.0" r="2.75"/><circle cx="474.6" cy="259.9" r="2.75"/><circle cx="471.4" cy="262.2" r="2.75"/><circle cx="466.8" cy="258.6" r="2.75"/><circle cx="462.9" cy="253.4" r="2.75"/><circle cx="460.7" cy="275.8" r="2.75"/><circle cx="455.8" cy="265.2" r="2.75"/><circle cx="455.2" cy="271.7" r="2.75"/><circle cx="452.7" cy="263.5" r="2.75"/><circle cx="449.5" cy="259.5" r="2.75"/><circle cx="446.2" cy="258.6" r="2.75"/><circle cx="442.1" cy="260.3" r="2.75"/><circle cx="434.7" cy="272.5" r="2.75"/><circle cx="431.5" cy="267.6" r="2.75"/><circle cx="430.6" cy="259.9" r="2.75"/><circle cx="429.8" cy="251.3" r="2.75"/><circle cx="429.0" cy="245.2" r="2.75"/><circle cx="418.0" cy="258.3" r="2.75"/><circle cx="421.6" cy="251.3" r="2.75"/><circle cx="414.3" cy="256.2" r="2.75"/><circle cx="417.1" cy="245.9" r="2.75"/><circle cx="415.1" cy="242.3" r="2.75"/><circle cx="400.4" cy="252.9" r="2.75"/><circle cx="411.8" cy="236.5" r="2.75"/><circle cx="404.5" cy="238.2" r="2.75"/><circle cx="393.0" cy="242.3" r="2.75"/><circle cx="389.7" cy="238.5" r="2.75"/><circle cx="390.5" cy="233.6" r="2.75"/><circle cx="388.1" cy="229.7" r="2.75"/><circle cx="387.3" cy="225.4" r="2.75"/><circle cx="394.6" cy="218.9" r="2.75"/><circle cx="379.9" cy="218.9" r="2.75"/><circle cx="386.9" cy="213.3" r="2.75"/><circle cx="396.3" cy="207.4" r="2.75"/><circle cx="380.4" cy="205.8" r="2.75"/><circle cx="379.9" cy="201.4" r="2.75"/><circle cx="388.1" cy="197.3" r="2.75"/><circle cx="379.4" cy="193.2" r="2.75"/><circle cx="379.1" cy="189.1" r="2.75"/><circle cx="376.6" cy="184.2" r="2.75"/><circle cx="384.3" cy="181.7" r="2.75"/><circle cx="384.8" cy="177.6" r="2.75"/><circle cx="396.3" cy="176.8" r="2.75"/><circle cx="393.8" cy="171.9" r="2.75"/><circle cx="399.5" cy="170.3" r="2.75"/><circle cx="388.9" cy="161.3" r="2.75"/><circle cx="395.1" cy="160.1" r="2.75"/><circle cx="395.5" cy="155.9" r="2.75"/><circle cx="396.3" cy="151.5" r="2.75"/><circle cx="393.0" cy="143.3" r="2.75"/><circle cx="409.9" cy="152.3" r="2.75"/><circle cx="409.4" cy="147.4" r="2.75"/><circle cx="406.9" cy="138.4" r="2.75"/><circle cx="413.8" cy="141.6" r="2.75"/><circle cx="413.5" cy="133.5" r="2.75"/><circle cx="418.0" cy="133.1" r="2.75"/><circle cx="419.7" cy="127.7" r="2.75"/><circle cx="425.2" cy="130.2" r="2.75"/><circle cx="425.2" cy="119.1" r="2.75"/><circle cx="431.1" cy="121.2" r="2.75"/><circle cx="438.0" cy="131.8" r="2.75"/><circle cx="440.5" cy="126.9" r="2.75"/><circle cx="444.2" cy="121.2" r="2.75"/><circle cx="448.6" cy="123.3" r="2.75"/><circle cx="452.7" cy="123.3" r="2.75"/><circle cx="456.6" cy="134.3" r="2.75"/></g>
<text x="127.6" y="104.6" font-size="11.5" letter-spacing="0.3" style="stroke-width:0.3px">10%</text>
<text x="128.1" y="198.0" font-size="12" letter-spacing="1.3" style="stroke-width:0.35px">0%</text>
<text x="457.2" y="104.9" font-size="11.5" letter-spacing="0.3" style="stroke-width:0.3px">30%</text>
<text x="458.6" y="199.0" font-size="12" letter-spacing="0.3" style="stroke-width:0.35px">5%</text>
</svg></body></html>
